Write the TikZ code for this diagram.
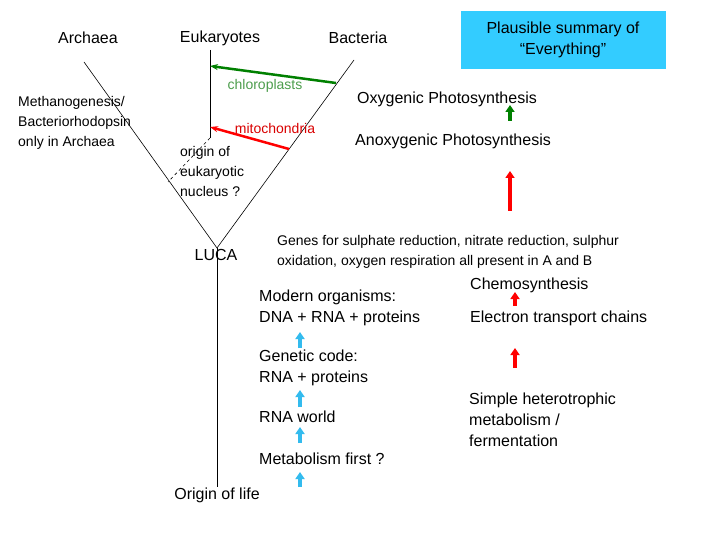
\documentclass[tikz,border=0pt]{standalone}
\usepackage{fontspec}
\setmainfont{Liberation Sans}
\usetikzlibrary{arrows.meta}
\definecolor{skyb}{HTML}{33CCFF}
\definecolor{arrb}{HTML}{33BBEE}
\begin{document}
\begin{tikzpicture}[x=1pt,y=-1pt,
    lbl/.style={inner sep=0pt,font=\fontsize{16}{21}\selectfont},
    sm/.style={inner sep=0pt,font=\fontsize{14}{20}\selectfont},
    br/.style={line width=0.6pt},
    upb/.style={-{Triangle[length=7pt,width=9pt]},line width=3.5pt,color=arrb},
    upr/.style={-{Triangle[length=7pt,width=9pt]},line width=3.5pt,color=red},
    upg/.style={-{Triangle[length=7pt,width=9pt]},line width=3.5pt,color=green!50!black}]
\useasboundingbox (0,0) rectangle (720,540);
% tree
\coordinate (arch) at (84,62);
\coordinate (bact) at (354,60);
\coordinate (euk) at (210,50);
\coordinate (nuc) at (210,138);
\coordinate (luca) at (217,248);
\coordinate (split) at (168,182);
\coordinate (base) at (217,487);
\coordinate (cs) at (336,83);
\coordinate (ct) at (210,66);
\coordinate (ms) at (289,149);
\coordinate (mt) at (210,127);
\draw[br] (arch) -- (luca) -- (bact);
\draw[br] (euk) -- (nuc);
\draw[br,dashed] (nuc) -- (split);
\draw[br] (luca) -- (base);
\draw[-{Stealth[length=8pt]},line width=2.5pt,green!50!black] (cs) -- (ct);
\draw[-{Stealth[length=8pt]},line width=2.5pt,red] (ms) -- (mt);
% labels
\node[lbl] (a) at (88,38) {Archaea};
\node[lbl] (e) at (220,38) {Eukaryotes};
\node[lbl] (b) at (358,38) {Bacteria};
\node[fill=skyb,minimum width=205pt,minimum height=58pt,align=center,lbl] (sum) at (563,40) {Plausible summary of\\``Everything''};
\node[sm,align=left,anchor=west] (meth) at (18,123) {Methanogenesis/\\Bacteriorhodopsin\\only in Archaea};
\node[sm,color=green!45!black!70] (chl) at (265,86) {chloroplasts};
\node[sm,color=red!85!black] (mit) at (275,128) {mitochondria};
\node[sm,align=left,anchor=west] (nucl) at (180,171) {origin of\\eukaryotic\\nucleus ?};
\node[lbl,anchor=west] (oxy) at (357,99) {Oxygenic Photosynthesis};
\node[lbl,anchor=west] (anox) at (355,141) {Anoxygenic Photosynthesis};
\node[sm,anchor=west,align=left] (genes) at (277,252) {Genes for sulphate reduction, nitrate reduction, sulphur\\oxidation, oxygen respiration all present in A and B};
\node[lbl] (lucal) at (216,255) {LUCA};
\node[lbl,anchor=west] (chem) at (470,285) {Chemosynthesis};
\node[lbl,anchor=west,align=left] (mod) at (259,308) {Modern organisms:\\DNA + RNA + proteins};
\node[lbl,anchor=west] (etc) at (470,318) {Electron transport chains};
\node[lbl,anchor=west,align=left] (gen) at (259,368) {Genetic code:\\RNA + proteins};
\node[lbl,anchor=west] (rna) at (259,417) {RNA world};
\node[lbl,anchor=west] (metf) at (259,459) {Metabolism first ?};
\node[lbl] (orig) at (217,495) {Origin of life};
\node[lbl,anchor=west,align=left] (simp) at (469,420) {Simple heterotrophic\\metabolism /\\fermentation};
% arrows
\draw[upg] (510,121) -- (510,105);
\draw[upr] (510,211) -- (510,171);
\draw[upr] (515,306) -- (515,292);
\draw[upr] (515,368) -- (515,348);
\draw[upb] (300,348) -- (300,332);
\draw[upb] (300,407) -- (300,390);
\draw[upb] (300,443) -- (300,427);
\draw[upb] (300,487) -- (300,472);
\end{tikzpicture}
\end{document}
